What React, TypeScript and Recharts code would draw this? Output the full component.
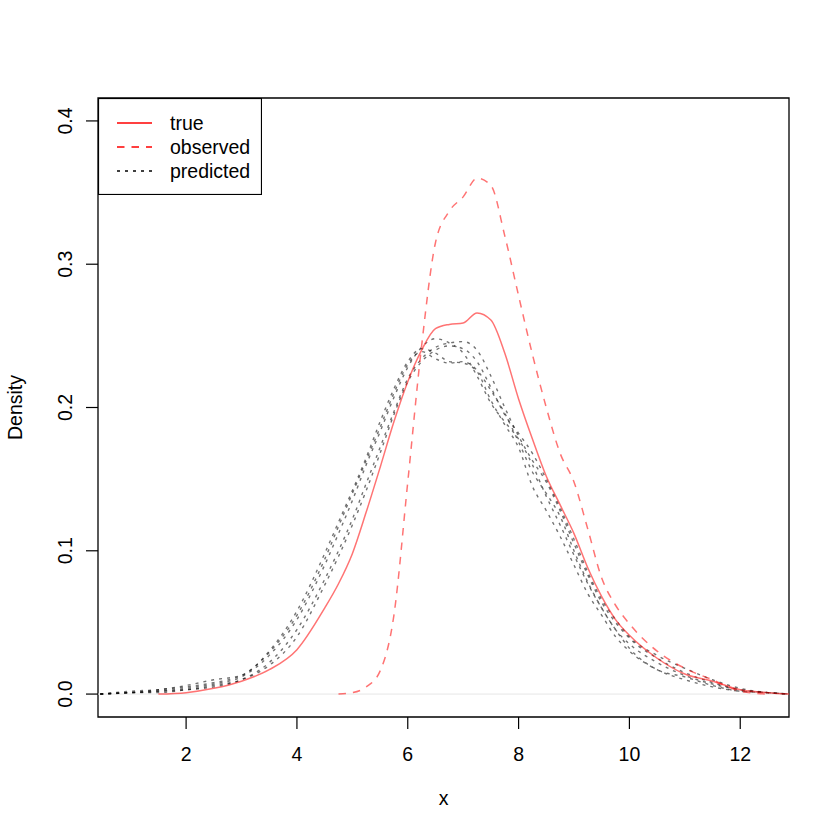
import React from 'react';
import {
  LineChart,
  Line,
  XAxis,
  YAxis,
  ReferenceLine,
  ReferenceArea,
  Legend,
} from 'recharts';

// x grid shared by all density curves
const xs = [0.45, 1, 1.5, 2, 2.5, 3, 3.5, 4, 4.5, 4.75, 5, 5.25, 5.5, 5.75, 6, 6.25, 6.5, 6.75, 7, 7.25, 7.5, 7.75, 8, 8.25, 8.5, 8.75, 9, 9.25, 9.5, 9.75, 10, 10.5, 11, 11.5, 12, 12.5, 12.9];

const trueDensity = [null, null, 0, 0.001, 0.004, 0.009, 0.017, 0.031, 0.06, 0.077, 0.098, 0.127, 0.158, 0.19, 0.218, 0.24, 0.255, 0.258, 0.259, 0.266, 0.261, 0.238, 0.206, 0.178, 0.152, 0.132, 0.112, 0.088, 0.068, 0.052, 0.041, 0.025, 0.014, 0.009, 0.003, 0.001, 0];

const observedDensity = [null, null, null, null, null, null, null, null, null, 0, 0.001, 0.005, 0.016, 0.055, 0.148, 0.243, 0.315, 0.337, 0.347, 0.36, 0.355, 0.32, 0.278, 0.237, 0.2, 0.168, 0.148, 0.115, 0.081, 0.062, 0.049, 0.03, 0.018, 0.01, 0.002, 0, null];

const predicted1 = [0, 0.001, 0.003, 0.006, 0.01, 0.013, 0.03, 0.058, 0.098, 0.12, 0.142, 0.165, 0.19, 0.213, 0.232, 0.241, 0.238, 0.232, 0.231, 0.225, 0.205, 0.188, 0.172, 0.145, 0.128, 0.11, 0.09, 0.07, 0.055, 0.04, 0.03, 0.017, 0.01, 0.005, 0.002, 0.001, 0];
const predicted2 = [0, 0.001, 0.002, 0.004, 0.007, 0.012, 0.027, 0.052, 0.09, 0.112, 0.135, 0.16, 0.183, 0.207, 0.228, 0.242, 0.248, 0.245, 0.238, 0.222, 0.203, 0.19, 0.178, 0.16, 0.138, 0.118, 0.097, 0.077, 0.06, 0.045, 0.035, 0.022, 0.013, 0.007, 0.003, 0.001, 0];
const predicted3 = [0, 0.001, 0.001, 0.003, 0.005, 0.01, 0.022, 0.045, 0.08, 0.1, 0.122, 0.147, 0.172, 0.197, 0.22, 0.234, 0.242, 0.245, 0.246, 0.24, 0.222, 0.2, 0.18, 0.163, 0.148, 0.128, 0.105, 0.083, 0.064, 0.05, 0.039, 0.025, 0.015, 0.008, 0.003, 0.001, 0];
const predicted4 = [0, 0.002, 0.003, 0.005, 0.008, 0.013, 0.029, 0.055, 0.094, 0.117, 0.14, 0.163, 0.186, 0.21, 0.23, 0.239, 0.234, 0.231, 0.232, 0.226, 0.212, 0.196, 0.176, 0.155, 0.14, 0.124, 0.1, 0.078, 0.06, 0.045, 0.032, 0.017, 0.012, 0.006, 0.002, 0.001, 0];
const predicted5 = [0, 0.001, 0.002, 0.003, 0.006, 0.01, 0.02, 0.04, 0.076, 0.096, 0.118, 0.142, 0.168, 0.195, 0.218, 0.232, 0.24, 0.243, 0.241, 0.232, 0.214, 0.195, 0.182, 0.168, 0.15, 0.13, 0.108, 0.085, 0.066, 0.052, 0.04, 0.027, 0.018, 0.01, 0.004, 0.001, 0];

const predictedSeries = [predicted1, predicted2, predicted3, predicted4, predicted5];

const xTicks = [2, 4, 6, 8, 10, 12];
const yTicks = [0, 0.1, 0.2, 0.3, 0.4];
const X_DOMAIN: [number, number] = [0.41, 12.88];
const Y_DOMAIN: [number, number] = [-0.016, 0.416];

const FONT = '"Liberation Sans", Arial, Helvetica, sans-serif';
const FONT_SIZE = 19.5;

const legendItems = [
  { label: 'true', color: '#ff0000', dash: undefined },
  { label: 'observed', color: '#ff0000', dash: '7.5 7' },
  { label: 'predicted', color: '#000000', dash: '3 5' },
];

const chartData = xs.map((x, i) => {
  const row: Record<string, number | null> = {
    x,
    trueD: trueDensity[i],
    observed: observedDensity[i],
  };
  predictedSeries.forEach((s, k) => {
    row[`p${k + 1}`] = s[i];
  });
  return row;
});

function YTick(props: any) {
  const { x, y, payload } = props;
  return (
    <text
      x={x}
      y={y}
      transform={`rotate(-90, ${x}, ${y})`}
      textAnchor="middle"
      fill="#000"
      fontSize={FONT_SIZE}
      fontFamily={FONT}
    >
      {Number(payload.value).toFixed(1)}
    </text>
  );
}

function LegendBox() {
  return (
    <svg width={164} height={97} style={{ display: 'block' }}>
      <rect x={0.5} y={0.5} width={163} height={96} fill="#fff" stroke="#000" strokeWidth={1.2} />
      {legendItems.map((item, i) => (
        <g key={item.label}>
          <line
            x1={19}
            x2={54}
            y1={25 + i * 24}
            y2={25 + i * 24}
            stroke={item.color}
            strokeWidth={1.4}
            strokeDasharray={item.dash}
          />
          <text
            x={72}
            y={25 + i * 24 + 7}
            fontSize={FONT_SIZE}
            fontFamily={FONT}
            fill="#000"
          >
            {item.label}
          </text>
        </g>
      ))}
    </svg>
  );
}

export default function App() {
  return (
    <div style={{ position: 'absolute', left: 0, top: 0, width: 840, height: 840, background: '#fff' }}>
      <LineChart
        width={840}
        height={840}
        data={chartData}
        margin={{ top: 98, right: 51, left: 38, bottom: 63 }}
      >
        <XAxis
          dataKey="x"
          type="number"
          domain={X_DOMAIN}
          allowDataOverflow
          ticks={xTicks}
          height={60}
          axisLine={false}
          tickLine={{ stroke: '#000', strokeWidth: 1.2 }}
          tickSize={12}
          tickMargin={18}
          tick={{ fill: '#000', fontSize: FONT_SIZE, fontFamily: FONT }}
          label={{
            value: 'x',
            position: 'bottom',
            offset: 14,
            fill: '#000',
            fontSize: FONT_SIZE,
            fontFamily: FONT,
          }}
        />
        <YAxis
          type="number"
          domain={Y_DOMAIN}
          allowDataOverflow
          ticks={yTicks}
          width={60}
          axisLine={false}
          tickLine={{ stroke: '#000', strokeWidth: 1.2 }}
          tickSize={12}
          tickMargin={14}
          tick={<YTick />}
          label={{
            content: (p: any) => {
              const vb = p.viewBox || { x: 38, y: 98, height: 619 };
              const cx = vb.x - 16;
              const cy = vb.y + vb.height / 2;
              return (
                <text
                  x={cx}
                  y={cy}
                  transform={`rotate(-90, ${cx}, ${cy})`}
                  textAnchor="middle"
                  fill="#000"
                  fontSize={FONT_SIZE}
                  fontFamily={FONT}
                >
                  Density
                </text>
              );
            },
          }}
        />

        {/* faint zero line */}
        <ReferenceLine y={0} stroke="#e6e6e6" strokeWidth={1} />

        {predictedSeries.map((_, k) => (
          <Line
            key={k}
            type="monotone"
            dataKey={`p${k + 1}`}
            stroke="#000"
            strokeOpacity={0.55}
            strokeWidth={1.4}
            strokeDasharray="3 5"
            dot={false}
            activeDot={false}
            isAnimationActive={false}
          />
        ))}
        <Line
          type="monotone"
          dataKey="trueD"
          stroke="#ff0000"
          strokeOpacity={0.55}
          strokeWidth={1.5}
          dot={false}
          activeDot={false}
          isAnimationActive={false}
        />
        <Line
          type="monotone"
          dataKey="observed"
          stroke="#ff0000"
          strokeOpacity={0.55}
          strokeWidth={1.5}
          strokeDasharray="7.5 7"
          dot={false}
          activeDot={false}
          isAnimationActive={false}
        />

        {/* plot box */}
        <ReferenceArea
          x1={X_DOMAIN[0]}
          x2={X_DOMAIN[1]}
          y1={Y_DOMAIN[0]}
          y2={Y_DOMAIN[1]}
          fill="none"
          stroke="#000"
          strokeWidth={1.3}
          ifOverflow="visible"
        />

        <Legend
          layout="horizontal"
          verticalAlign="middle"
          align="center"
          content={() => <LegendBox />}
          wrapperStyle={{ position: 'absolute', left: 98, top: 98, width: 164, height: 97 }}
        />
      </LineChart>
    </div>
  );
}
